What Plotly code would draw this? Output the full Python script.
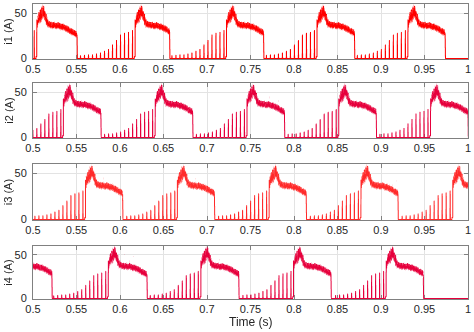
import plotly.graph_objects as go

# ---- data ----
X_TICKS = [0.5, 0.55, 0.6, 0.65, 0.7, 0.75, 0.8, 0.85, 0.9, 0.95, 1.0]
X_TICK_TEXT = ["0.5", "0.55", "0.6", "0.65", "0.7", "0.75", "0.8", "0.85", "0.9", "0.95", "1"]
Y_TICKS = [0, 50]
CHANNELS = ["i1", "i2", "i3", "i4"]

# conduction-pulse profile (A), one value per ms after the rising edge
PROFILE = [2, 38, 43, 45, 46, 47, 49, 51, 52, 50, 47, 44, 41, 39, 38, 38, 37, 37, 37, 36,
           37, 37, 36, 36, 36, 37, 36, 36, 35, 35, 35, 35, 34, 34, 33, 33, 32, 32, 31, 30,
           30, 29, 29, 28, 28, 27, 27]
# half-width of the noisy band (A), one value per ms
BAND = [0, 4, 5, 6, 6, 7, 7, 7, 6, 6, 5, 5, 4, 4, 3, 3, 3, 3, 3, 3,
        3, 3, 3, 3, 3, 3, 3, 3, 3, 3, 3, 3, 3, 3, 3, 3, 3, 3, 3, 3,
        3, 3, 3, 3, 3, 3, 3]
RIPPLE = [1.0, -0.8, 0.5, -1.0, 0.7, -0.4, 0.9, -0.9, 0.3, -0.6, 1.2, -0.5, 0.6, -1.1, 0.2, -0.7, 0.8]
# spike heights (A) in the off interval, ordered from the falling edge to the next rise
SPIKES = [3, 3, 3.5, 4, 4, 5, 6, 8, 10, 15, 20, 26, 28, 29, 31]

RISE = {
    "i1": [0.5034, 0.6164, 0.7215, 0.8255, 0.930],
    "i2": [0.534, 0.6395, 0.745, 0.8505, 0.956],
    "i3": [0.5594, 0.665, 0.7705, 0.876, 0.9815],
    "i4": [0.479, 0.5856, 0.692, 0.7985, 0.905],
}
FALL = {
    "i1": [0.5506, 0.657, 0.765, 0.8695, 0.9737],
    "i2": [0.578, 0.6835, 0.789, 0.8945, 1.0],
    "i3": [0.603, 0.7085, 0.814, 0.9195, 1.03],
    "i4": [0.5217, 0.631, 0.7365, 0.8425, 0.9486],
}
COLORS = {"i1": "#ff0000", "i2": "#e6003c", "i3": "#ff2a2a", "i4": "#e6003c"}

SPIKE_STEP = 0.0046
SAMPLE = 0.0001


def build(ch):
    xs, ys = [0.47], [0]
    prev_fall = 0.47
    for rise, fall in zip(RISE[ch], FALL[ch]):
        sp = []
        for j, h in enumerate(reversed(SPIKES)):
            t = rise - 0.002 - j * SPIKE_STEP
            if t > prev_fall + 0.002:
                sp.append((t, h))
        for t, h in sorted(sp):
            xs += [t - 0.0002, t, t + 0.0002]
            ys += [0, h, 0]
        xs.append(rise)
        ys.append(0)
        i = 1
        while rise + i * SAMPLE < fall - 0.0003:
            ms = min(i // 10, len(PROFILE) - 1)
            xs.append(rise + i * SAMPLE)
            ys.append(PROFILE[ms] + BAND[ms] * RIPPLE[i % len(RIPPLE)])
            i += 1
        ms = min(i // 10, len(PROFILE) - 1)
        xs += [fall, fall + 0.0004]
        ys += [PROFILE[ms] - 1, 0]
        prev_fall = fall
    xs.append(1.05)
    ys.append(0)
    return xs, ys


DOMAINS = [[0.8136, 1.0], [0.5458, 0.732], [0.2678, 0.4576], [0.0, 0.1797]]
TXT = "#262626"
FRAME = "#808080"
GRID = "#e3e3e3"
FONT = "Liberation Sans, Arial, sans-serif"

fig = go.Figure()
layout = dict(
    width=474, height=332,
    margin=dict(l=33, r=3, t=4, b=33),
    paper_bgcolor="white", plot_bgcolor="white",
    showlegend=False,
    font=dict(family=FONT, size=11, color=TXT),
    annotations=[],
)

for k, ch in enumerate(CHANNELS):
    xs, ys = build(ch)
    sfx = "" if k == 0 else str(k + 1)
    fig.add_trace(go.Scattergl(x=xs, y=ys, mode="lines",
                               line=dict(color=COLORS[ch], width=1),
                               xaxis="x" + sfx, yaxis="y" + sfx, hoverinfo="skip"))
    layout["xaxis" + sfx] = dict(
        domain=[0, 1], anchor="y" + sfx, range=[0.5, 1.0],
        tickvals=X_TICKS, ticktext=X_TICK_TEXT, ticklabeloverflow="allow",
        showgrid=True, gridcolor=GRID, gridwidth=1,
        showline=True, linecolor=FRAME, linewidth=1, mirror="ticks",
        ticks="inside", ticklen=4, tickcolor=FRAME,
        zeroline=False, layer="below traces",
        tickfont=dict(size=11, color=TXT),
    )
    layout["yaxis" + sfx] = dict(
        domain=DOMAINS[k], anchor="x" + sfx, range=[-0.6, 60],
        tickvals=Y_TICKS,
        showgrid=True, gridcolor=GRID, gridwidth=1,
        showline=True, linecolor=FRAME, linewidth=1, mirror="ticks",
        ticks="inside", ticklen=4, tickcolor=FRAME,
        zeroline=False, layer="below traces",
        tickfont=dict(size=11, color=TXT), ticklabelstandoff=3,
    )
    layout["annotations"].append(dict(
        text=f"{ch} (A)", xref="paper", yref="paper",
        x=-0.057, y=(DOMAINS[k][0] + DOMAINS[k][1]) / 2,
        xanchor="center", yanchor="middle", textangle=-90, showarrow=False,
        font=dict(size=11, color=TXT)))

layout["annotations"].append(dict(
    text="Time (s)", xref="paper", yref="paper", x=0.5, y=-0.078,
    xanchor="center", yanchor="middle", showarrow=False,
    font=dict(size=12, color=TXT)))

fig.update_layout(**layout)
fig.write_html("out.html")
